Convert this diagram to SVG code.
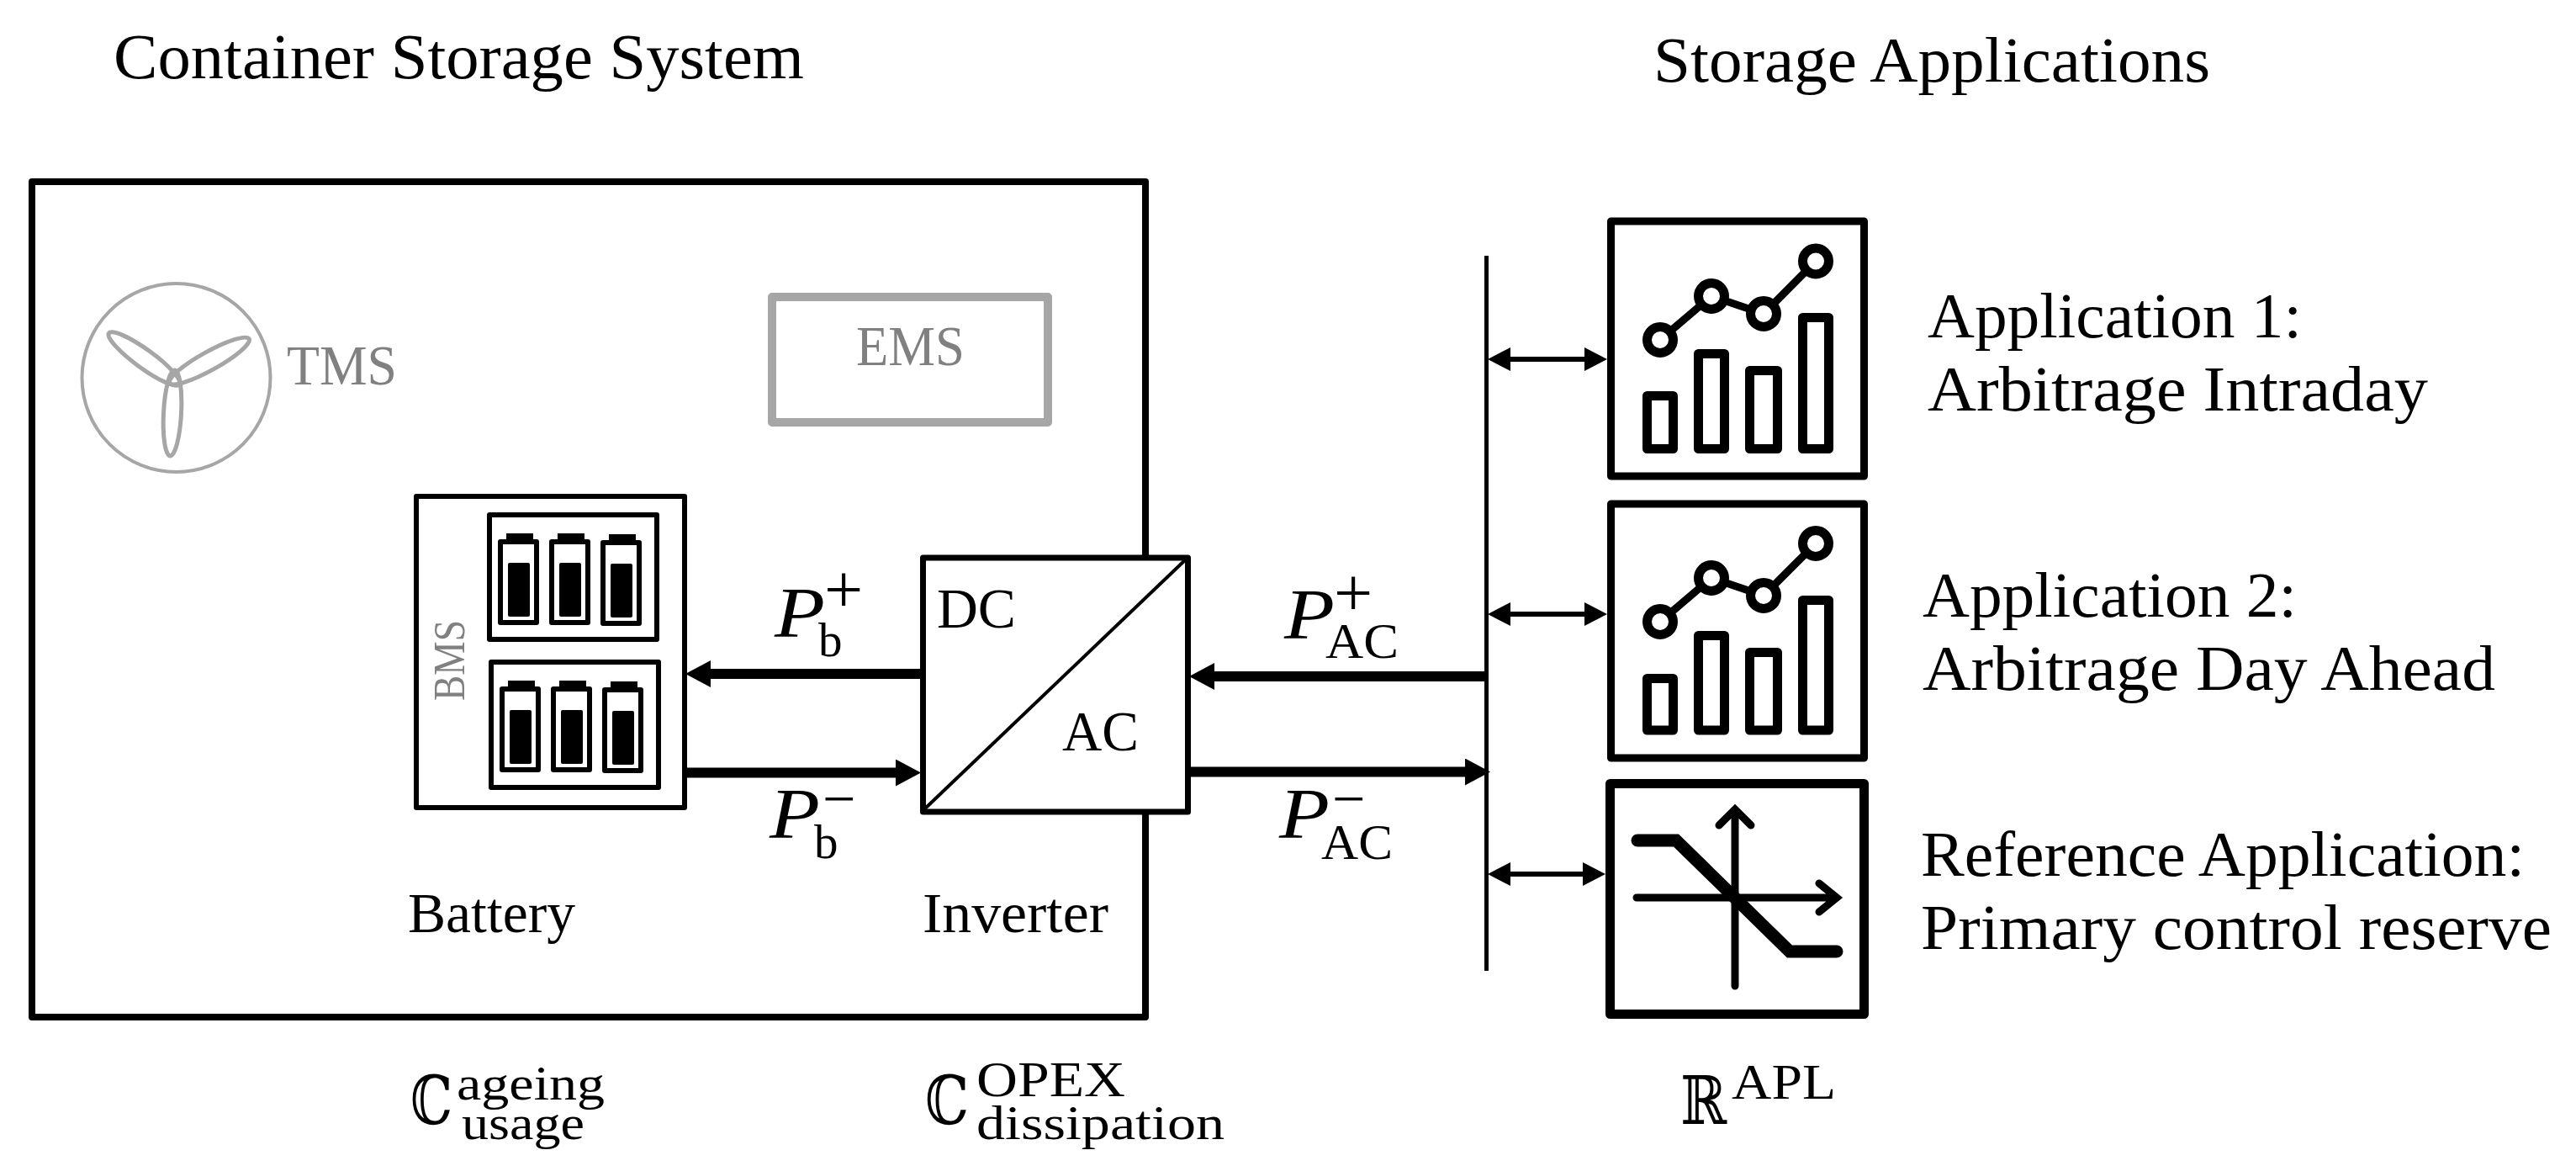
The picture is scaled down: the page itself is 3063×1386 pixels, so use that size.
<svg xmlns="http://www.w3.org/2000/svg" xmlns:xlink="http://www.w3.org/1999/xlink" width="3063" height="1386" viewBox="0 0 3063 1386">
<style>
text{font-family:"Liberation Serif","Times New Roman",serif;fill:#000}
.t{font-size:76px}.l{font-size:68px}.g{fill:#808080}.a{font-size:76px}
.i{font-style:italic;font-size:84px}.s{font-size:57px}.u{font-size:60px}.sy{font-size:82px}.mn{font-size:70px}
.bb{font-family:"DejaVu Serif","DejaVu Sans",serif;font-size:80px}
.k{fill:none;stroke:#000;stroke-linejoin:round}.w{fill:#fff;stroke:#000;stroke-linejoin:round}
.gr{fill:none;stroke:#a6a6a6;stroke-linejoin:round}
.thick{stroke:#000;stroke-width:12;fill:none}
.thin{stroke:#000;stroke-width:6;fill:none}
.bar{fill:#fff;stroke:#000;stroke-width:11;stroke-linejoin:round}
.trend{fill:none;stroke:#000;stroke-width:9}
.dot{fill:#fff;stroke:#000;stroke-width:11}
.cellb{fill:#fff;stroke:#000;stroke-width:6;stroke-linejoin:round}
</style>
<defs>
<marker id="hb" markerUnits="userSpaceOnUse" markerWidth="30" markerHeight="32" refX="10" refY="16" orient="auto"><path d="M0,0L30,16L0,32Z" fill="#000"/></marker>
<marker id="hs" markerUnits="userSpaceOnUse" markerWidth="27" markerHeight="28" refX="7" refY="14" orient="auto-start-reverse"><path d="M0,0L27,14L0,28Z" fill="#000"/></marker>
<g id="cell"><rect x="10" y="0" width="32" height="10" fill="#000"/><rect class="cellb" x="3" y="10" width="43" height="96"/><rect x="12" y="35" width="26" height="64" rx="2" fill="#000"/></g>
</defs>
<rect width="3063" height="1386" fill="#fff"/>
<text id="title-left" class="t" x="135" y="93" textLength="821" lengthAdjust="spacingAndGlyphs">Container Storage System</text>
<text id="title-right" class="t" x="1966" y="97" textLength="662" lengthAdjust="spacingAndGlyphs">Storage Applications</text>
<g id="container"><rect class="k" stroke-width="8" x="38" y="216" width="1324" height="993"/></g>
<g id="tms">
<circle class="gr" stroke-width="4" cx="209.500" cy="449" r="112"/>
<ellipse class="gr" stroke-width="5" cx="171.500" cy="426.500" rx="52" ry="11" transform="rotate(36 171.500 426.500)"/>
<ellipse class="gr" stroke-width="5" cx="249" cy="429" rx="54" ry="11" transform="rotate(-29 249 429)"/>
<ellipse class="gr" stroke-width="5" cx="205" cy="491" rx="10.500" ry="51" transform="rotate(3 205 491)"/>
<text class="l g" x="341" y="457" textLength="131" lengthAdjust="spacingAndGlyphs">TMS</text>
</g>
<g id="ems"><rect class="gr" stroke-width="10" x="918" y="353" width="328" height="149"/><text class="l g" x="1018" y="434" textLength="129" lengthAdjust="spacingAndGlyphs">EMS</text></g>
<g id="battery">
<rect class="w" stroke-width="6" x="495" y="590" width="319" height="370"/>
<rect class="k" stroke-width="6" x="582" y="612" width="199" height="148"/>
<rect class="k" stroke-width="6" x="584" y="787" width="199" height="149"/>
<use xlink:href="#cell" href="#cell" x="592" y="634"/><use xlink:href="#cell" href="#cell" x="653" y="634"/><use xlink:href="#cell" href="#cell" x="714" y="635"/>
<use xlink:href="#cell" href="#cell" x="594" y="809"/><use xlink:href="#cell" href="#cell" x="655" y="809"/><use xlink:href="#cell" href="#cell" x="716" y="810"/>
<text class="g" font-size="53" transform="translate(552 833) rotate(-90)" textLength="96" lengthAdjust="spacingAndGlyphs">BMS</text>
<text class="l" x="485" y="1108" textLength="199" lengthAdjust="spacingAndGlyphs">Battery</text>
</g>
<g id="inverter">
<rect class="w" stroke-width="7" x="1097.500" y="663" width="315" height="302"/>
<line class="k" stroke-width="4" x1="1099" y1="962" x2="1411" y2="664"/>
<text class="l" x="1114" y="746" textLength="94" lengthAdjust="spacingAndGlyphs">DC</text>
<text class="l" x="1263" y="892" textLength="91" lengthAdjust="spacingAndGlyphs">AC</text>
<text class="l" x="1097" y="1108" textLength="221" lengthAdjust="spacingAndGlyphs">Inverter</text>
</g>
<g id="connectors">
<line class="k" stroke-width="5" x1="1767.500" y1="304" x2="1767.500" y2="1154"/>
<line class="thick" x1="1094" y1="801" x2="835" y2="801" marker-end="url(#hb)"/>
<line class="thick" x1="815" y1="918.500" x2="1075" y2="918.500" marker-end="url(#hb)"/>
<line class="thick" x1="1766" y1="804" x2="1434" y2="804" marker-end="url(#hb)"/>
<line class="thick" x1="1416" y1="917.500" x2="1752" y2="917.500" marker-end="url(#hb)"/>
<line class="thin" x1="1789" y1="427" x2="1891" y2="427" marker-start="url(#hs)" marker-end="url(#hs)"/>
<line class="thin" x1="1789" y1="730" x2="1891" y2="730" marker-start="url(#hs)" marker-end="url(#hs)"/>
<line class="thin" x1="1789" y1="1039" x2="1889" y2="1039" marker-start="url(#hs)" marker-end="url(#hs)"/>
</g>
<g id="power-labels">
<text class="i" x="921" y="757" textLength="60" lengthAdjust="spacingAndGlyphs">P</text><text class="sy" x="980" y="728">+</text><text class="s" x="973" y="780">b</text>
<text class="i" x="915" y="996" textLength="60" lengthAdjust="spacingAndGlyphs">P</text><text class="mn" x="978" y="973">−</text><text class="s" x="968" y="1020">b</text>
<text class="i" x="1527" y="759" textLength="60" lengthAdjust="spacingAndGlyphs">P</text><text class="sy" x="1586" y="732">+</text><text class="u" x="1576" y="782" textLength="87" lengthAdjust="spacingAndGlyphs">AC</text>
<text class="i" x="1521" y="996" textLength="60" lengthAdjust="spacingAndGlyphs">P</text><text class="mn" x="1584" y="973">−</text><text class="u" x="1571" y="1021" textLength="85" lengthAdjust="spacingAndGlyphs">AC</text>
</g>
<g id="app1">
<rect class="k" stroke-width="9" x="1915.500" y="263" width="301" height="303"/>
<rect class="bar" x="1958.500" y="470.500" width="31" height="63"/><rect class="bar" x="2019.500" y="420.500" width="31" height="113"/><rect class="bar" x="2080.500" y="440.500" width="33" height="93"/><rect class="bar" x="2143.500" y="377.500" width="31" height="156"/>
<polyline class="trend" points="1974,404 2035,352 2097,373 2159,310.500"/>
<circle class="dot" cx="1974" cy="404" r="15.500"/><circle class="dot" cx="2035" cy="352" r="15.500"/><circle class="dot" cx="2097" cy="373" r="15.500"/><circle class="dot" cx="2159" cy="310.500" r="15.500"/>
<text class="a" x="2292" y="401" textLength="445" lengthAdjust="spacingAndGlyphs">Application 1:</text>
<text class="a" x="2292" y="488" textLength="595" lengthAdjust="spacingAndGlyphs">Arbitrage Intraday</text>
</g>
<g id="app2">
<rect class="k" stroke-width="9" x="1915.500" y="599" width="301" height="302"/>
<rect class="bar" x="1958.500" y="806.500" width="31" height="61.500"/><rect class="bar" x="2019.500" y="755.500" width="31" height="112.500"/><rect class="bar" x="2080.500" y="775.500" width="33" height="92.500"/><rect class="bar" x="2143.500" y="713.500" width="31" height="154.500"/>
<polyline class="trend" points="1974,739 2035,687 2097,708 2159,646"/>
<circle class="dot" cx="1974" cy="739" r="15.500"/><circle class="dot" cx="2035" cy="687" r="15.500"/><circle class="dot" cx="2097" cy="708" r="15.500"/><circle class="dot" cx="2159" cy="646" r="15.500"/>
<text class="a" x="2286" y="733" textLength="445" lengthAdjust="spacingAndGlyphs">Application 2:</text>
<text class="a" x="2286" y="820" textLength="681" lengthAdjust="spacingAndGlyphs">Arbitrage Day Ahead</text>
</g>
<g id="ref-app">
<rect class="k" stroke-width="11" x="1914.500" y="931.500" width="302" height="274"/>
<g fill="none" stroke="#000" stroke-linecap="round" stroke-linejoin="miter">
<path stroke-width="9" d="M2063 1172V964M2044 981L2063 962L2082 981"/>
<path stroke-width="9" d="M1946 1067H2183M2163 1050L2184 1067L2163 1084"/>
<path stroke-width="15" d="M1947 999H1993L2128 1131H2184"/>
</g>
<text class="a" x="2284" y="1041" textLength="718" lengthAdjust="spacingAndGlyphs">Reference Application:</text>
<text class="a" x="2284" y="1128" textLength="750" lengthAdjust="spacingAndGlyphs">Primary control reserve</text>
</g>
<g id="cost-labels">
<text class="bb" x="488" y="1336" textLength="50" lengthAdjust="spacingAndGlyphs">ℂ</text>
<text class="s" x="543" y="1307" textLength="176" lengthAdjust="spacingAndGlyphs">ageing</text>
<text class="s" x="549" y="1354" textLength="146" lengthAdjust="spacingAndGlyphs">usage</text>
<text class="bb" x="1100" y="1336" textLength="52" lengthAdjust="spacingAndGlyphs">ℂ</text>
<text class="u" x="1161" y="1303" textLength="177" lengthAdjust="spacingAndGlyphs">OPEX</text>
<text class="s" x="1161" y="1354" textLength="295" lengthAdjust="spacingAndGlyphs">dissipation</text>
<text class="bb" x="1998" y="1336" textLength="55" lengthAdjust="spacingAndGlyphs">ℝ</text>
<text class="u" x="2059" y="1306" textLength="124" lengthAdjust="spacingAndGlyphs">APL</text>
</g>
</svg>
